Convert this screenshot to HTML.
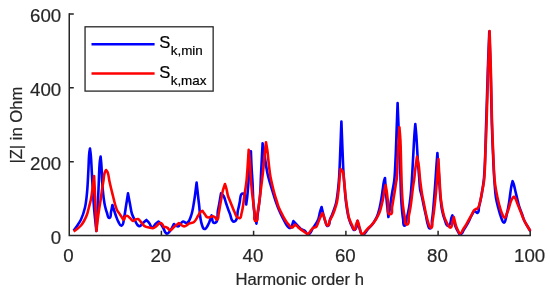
<!DOCTYPE html>
<html><head><meta charset="utf-8"><title>Impedance over harmonic order</title>
<style>
html,body{margin:0;padding:0;background:#fff;}
body{width:550px;height:292px;overflow:hidden;}
svg{display:block;}
text{font-family:"Liberation Sans",Arial,Helvetica,sans-serif;fill:#262626;stroke:#262626;stroke-width:0.2px;}
.tick{font-size:18.7px;}
.lab{font-size:16.65px;}
.leg{font-size:16.6px;fill:#000;stroke:#000;}
.sub{font-size:13.4px;fill:#000;stroke:#000;}
</style></head><body>
<svg width="550" height="292" viewBox="0 0 550 292">
<rect width="550" height="292" fill="#fff"/>
<g fill="none" stroke-linejoin="round" stroke-linecap="butt" stroke-width="2.6">
<path stroke="#0000ff" d="M73.60 230.50C74.73 229.00 75.94 227.55 77.00 226.00C78.44 223.90 79.92 221.81 81.00 219.50C82.78 215.68 84.04 211.61 85.00 207.50C86.11 202.75 86.52 197.86 87.00 193.00C87.76 185.36 87.95 177.67 88.40 170.00C88.75 164.00 88.71 157.97 89.40 152.00C89.53 150.86 89.80 149.73 90.00 148.60C90.27 150.73 90.60 152.86 90.80 155.00C91.32 160.65 91.48 166.33 91.80 172.00C92.14 178.00 92.42 184.00 92.80 190.00C93.27 197.34 93.75 204.68 94.40 212.00C94.96 218.34 95.73 224.67 96.40 231.00C96.80 224.00 97.25 217.00 97.60 210.00C98.07 200.67 98.37 191.33 98.80 182.00C99.11 175.33 99.14 168.64 99.80 162.00C99.98 160.19 100.33 158.40 100.60 156.60C100.87 159.40 101.20 162.19 101.40 165.00C101.80 170.66 101.83 176.34 102.20 182.00C102.46 186.01 102.74 190.01 103.20 194.00C103.67 198.02 104.14 202.05 105.00 206.00C105.51 208.37 106.14 210.73 107.00 213.00C107.66 214.73 107.56 218.17 109.40 218.00C111.46 217.81 110.53 214.02 111.00 212.00C111.54 209.68 111.93 207.33 112.40 205.00C112.93 206.67 113.46 208.34 114.00 210.00C114.65 212.00 115.26 214.03 116.00 216.00C116.76 218.03 117.39 220.14 118.50 222.00C119.29 223.32 119.88 225.87 121.40 225.60C124.04 225.14 123.34 220.60 124.00 218.00C124.99 214.07 125.35 210.00 126.00 206.00C126.68 201.80 127.33 197.60 128.00 193.40C128.67 196.93 129.31 200.47 130.00 204.00C130.65 207.34 130.95 210.77 132.00 214.00C132.74 216.27 133.92 218.37 135.00 220.50C135.78 222.03 136.31 223.77 137.50 225.00C138.04 225.56 138.73 226.27 139.50 226.20C140.84 226.07 141.49 224.39 142.50 223.50C143.83 222.32 145.17 221.17 146.50 220.00C147.50 221.17 148.55 222.29 149.50 223.50C150.49 224.76 150.70 227.29 152.30 227.40C153.85 227.50 154.36 225.06 155.50 224.00C156.47 223.10 157.57 222.33 158.60 221.50C159.57 222.67 160.64 223.75 161.50 225.00C162.26 226.10 162.79 227.36 163.50 228.50C164.60 230.25 164.95 233.34 167.00 233.60C168.31 233.77 169.16 232.02 170.00 231.00C171.71 228.92 172.67 226.33 174.00 224.00C175.33 224.80 176.45 226.57 178.00 226.40C180.30 226.14 180.74 222.09 183.00 221.60C184.38 221.30 185.68 223.49 187.00 223.00C189.52 222.06 190.04 218.51 191.00 216.00C192.70 211.54 193.18 206.70 194.00 202.00C195.12 195.57 195.73 189.07 196.60 182.60C197.40 189.73 198.09 196.88 199.00 204.00C199.89 211.01 199.63 218.34 202.00 225.00C202.52 226.47 202.85 228.85 204.40 229.00C206.19 229.17 207.07 226.53 208.00 225.00C209.77 222.08 210.40 218.60 211.60 215.40C212.53 217.93 211.70 223.11 214.40 223.00C218.89 222.81 217.00 214.38 218.00 210.00C219.25 204.52 220.00 198.93 221.00 193.40C221.87 194.27 222.95 194.96 223.60 196.00C224.91 198.09 225.18 200.67 226.00 203.00C227.30 206.68 228.42 210.43 230.00 214.00C231.16 216.62 231.15 221.82 234.00 221.60C238.08 221.29 236.89 213.94 238.00 210.00C238.76 207.31 239.19 204.53 239.80 201.80C240.39 199.20 239.73 195.90 241.60 194.00C242.08 193.51 242.93 193.67 243.60 193.50C244.07 194.33 244.69 195.10 245.00 196.00C245.91 198.71 245.80 201.67 246.20 204.50C246.53 202.00 246.93 199.51 247.20 197.00C247.71 192.34 248.06 187.67 248.40 183.00C248.89 176.34 249.03 169.65 249.60 163.00C249.93 159.12 250.47 155.27 250.90 151.40C251.10 156.27 251.25 161.14 251.50 166.00C251.78 171.34 252.19 176.67 252.50 182.00C253.04 191.33 252.94 200.71 254.00 210.00C254.52 214.57 255.60 219.07 256.40 223.60C256.93 219.73 257.49 215.87 258.00 212.00C258.70 206.67 259.54 201.35 260.00 196.00C260.60 189.02 260.66 182.00 261.00 175.00C261.52 164.47 262.07 153.93 262.60 143.40C263.23 147.27 263.87 151.13 264.50 155.00C265.54 161.33 266.25 167.73 267.60 174.00C268.25 177.04 269.14 180.02 270.00 183.00C270.87 186.02 271.86 189.00 272.80 192.00C273.79 195.17 274.71 198.36 275.80 201.50C276.79 204.36 277.82 207.21 279.00 210.00C280.22 212.88 281.58 215.71 283.00 218.50C283.95 220.36 284.87 222.25 286.00 224.00C286.75 225.16 287.41 226.46 288.50 227.30C288.99 227.67 289.63 228.22 290.20 228.00C292.59 227.06 292.33 223.33 293.40 221.00C294.27 222.00 295.10 223.03 296.00 224.00C297.61 225.73 299.09 227.62 301.00 229.00C302.21 229.87 303.82 230.09 305.00 231.00C306.20 231.92 306.49 234.45 308.00 234.40C310.71 234.32 311.45 230.22 313.00 228.00C314.80 225.42 316.77 222.89 318.00 220.00C319.07 217.47 319.25 214.64 320.00 212.00C320.48 210.32 321.07 208.67 321.60 207.00C322.23 209.67 322.81 212.35 323.50 215.00C324.11 217.35 324.55 219.76 325.50 222.00C326.10 223.42 326.27 226.15 327.80 226.00C330.08 225.78 329.17 221.63 330.00 219.50C330.66 217.80 331.52 216.19 332.20 214.50C333.00 212.52 333.73 210.52 334.40 208.50C335.06 206.52 335.73 204.54 336.20 202.50C336.76 200.03 337.06 197.51 337.40 195.00C337.81 192.01 338.11 189.00 338.40 186.00C338.72 182.67 339.00 179.34 339.20 176.00C339.73 167.34 339.95 158.67 340.30 150.00C340.68 140.53 341.03 131.07 341.40 121.60C341.77 131.07 342.11 140.53 342.50 150.00C342.84 158.33 343.06 166.68 343.60 175.00C343.75 177.34 344.00 179.67 344.20 182.00C344.79 188.67 345.12 195.36 346.00 202.00C346.76 207.70 347.42 213.47 349.00 219.00C349.79 221.76 350.83 224.47 352.20 227.00C352.78 228.07 353.09 230.16 354.30 230.00C357.46 229.57 356.43 224.00 357.50 221.00C358.20 223.50 358.67 226.07 359.60 228.50C360.41 230.62 360.36 234.24 362.60 234.60C364.90 234.97 365.87 231.27 367.50 229.60C368.67 228.40 369.91 227.27 371.00 226.00C372.08 224.73 373.10 223.40 374.00 222.00C375.13 220.24 376.19 218.43 377.00 216.50C378.15 213.77 378.89 210.88 379.60 208.00C380.41 204.71 380.94 201.35 381.50 198.00C382.00 195.01 382.36 192.00 382.80 189.00C383.19 186.33 383.37 183.62 384.00 181.00C384.25 179.97 384.67 179.00 385.00 178.00C385.27 182.00 385.51 186.00 385.80 190.00C386.04 193.34 386.29 196.67 386.60 200.00C387.13 205.67 387.80 211.33 388.40 217.00C388.80 214.67 389.24 212.34 389.60 210.00C390.12 206.67 390.50 203.33 391.00 200.00C391.50 196.66 392.04 193.33 392.60 190.00C393.11 187.00 393.84 184.03 394.20 181.00C395.03 174.04 395.15 167.00 395.50 160.00C396.03 149.34 396.31 138.67 396.70 128.00C397.01 119.67 397.30 111.33 397.60 103.00C397.93 111.33 398.24 119.67 398.60 128.00C398.91 135.33 399.32 142.66 399.60 150.00C399.92 158.33 400.14 166.67 400.40 175.00C400.61 181.67 400.68 188.34 401.00 195.00C401.24 200.01 401.53 205.01 402.00 210.00C402.31 213.34 402.59 216.70 403.20 220.00C403.55 221.89 402.68 225.55 404.60 225.60C406.90 225.66 406.02 221.22 406.60 219.00C407.54 215.37 408.35 211.70 409.00 208.00C409.70 204.03 410.17 200.01 410.60 196.00C411.13 191.01 411.46 186.00 411.80 181.00C412.28 174.01 412.60 167.00 413.00 160.00C413.47 151.67 413.83 143.33 414.40 135.00C414.65 131.33 415.00 127.67 415.30 124.00C415.63 127.67 416.02 131.33 416.30 135.00C416.93 143.32 417.23 151.67 417.80 160.00C418.21 166.00 418.72 172.00 419.20 178.00C419.52 182.00 419.53 186.04 420.20 190.00C420.49 191.70 421.11 193.32 421.50 195.00C422.43 198.98 423.14 203.01 424.00 207.00C424.65 210.00 425.33 213.00 426.00 216.00C426.67 219.00 426.87 222.14 428.00 225.00C428.48 226.22 428.70 228.60 430.00 228.40C432.85 227.97 431.52 222.84 432.00 220.00C433.11 213.39 433.42 206.67 434.00 200.00C434.58 193.34 435.03 186.67 435.50 180.00C435.85 175.00 436.15 170.00 436.50 165.00C436.78 161.00 437.10 157.00 437.40 153.00C437.70 157.00 438.03 161.00 438.30 165.00C438.64 170.00 438.87 175.00 439.20 180.00C439.60 186.00 439.91 192.01 440.50 198.00C440.90 202.01 441.19 206.05 442.00 210.00C442.73 213.57 443.62 217.13 445.00 220.50C445.79 222.43 445.93 225.70 448.00 226.00C448.93 226.13 449.54 224.82 450.00 224.00C451.00 222.20 450.80 219.96 451.40 218.00C451.67 217.11 452.07 216.27 452.40 215.40C452.80 216.93 453.18 218.47 453.60 220.00C454.20 222.18 454.68 224.40 455.50 226.50C456.18 228.23 457.05 229.90 458.00 231.50C458.60 232.51 458.83 234.35 460.00 234.40C462.11 234.49 462.78 231.22 464.00 229.50C465.47 227.43 466.80 225.24 468.00 223.00C469.13 220.90 469.93 218.63 471.00 216.50C471.94 214.63 473.00 212.83 474.00 211.00C474.67 211.33 475.36 211.62 476.00 212.00C476.49 212.30 476.86 213.19 477.40 213.00C479.35 212.30 478.51 209.01 479.00 207.00C479.73 204.01 480.41 201.02 481.00 198.00C481.77 194.02 482.42 190.01 483.00 186.00C483.39 183.34 483.78 180.68 484.00 178.00C485.53 159.38 485.54 140.67 486.20 122.00C486.84 104.00 487.27 86.00 487.90 68.00C488.32 55.83 488.83 43.67 489.30 31.50C489.73 43.67 490.25 55.83 490.60 68.00C491.12 86.00 491.24 104.00 491.80 122.00C492.24 136.34 492.80 150.67 493.50 165.00C493.78 170.67 494.07 176.34 494.50 182.00C494.91 187.34 495.17 192.71 496.00 198.00C496.48 201.04 497.24 204.02 498.00 207.00C498.60 209.35 499.27 211.69 500.00 214.00C500.61 215.95 501.06 217.98 502.00 219.80C502.53 220.82 502.86 222.72 504.00 222.60C505.48 222.45 505.33 219.92 505.80 218.50C506.45 216.55 506.78 214.51 507.20 212.50C507.87 209.35 508.49 206.18 509.00 203.00C509.56 199.51 509.89 195.99 510.40 192.50C510.77 189.99 511.08 187.48 511.60 185.00C511.87 183.72 512.27 182.47 512.60 181.20C513.00 182.30 513.46 183.38 513.80 184.50C514.54 186.96 515.00 189.50 515.60 192.00C516.16 194.33 516.73 196.67 517.30 199.00C517.87 201.33 518.29 203.71 519.00 206.00C519.84 208.72 521.05 211.32 522.00 214.00C522.70 215.99 523.16 218.07 524.00 220.00C524.83 221.91 525.96 223.69 527.00 225.50C528.06 227.36 529.20 229.17 530.30 231.00"/>
<path stroke="#ff0000" d="M73.60 231.50C74.73 230.67 75.90 229.88 77.00 229.00C78.38 227.89 79.83 226.83 81.00 225.50C82.19 224.14 83.12 222.57 84.00 221.00C85.17 218.92 86.19 216.74 87.00 214.50C87.88 212.07 88.35 209.51 89.00 207.00C89.69 204.34 90.46 201.70 91.00 199.00C91.53 196.36 91.83 193.67 92.20 191.00C92.57 188.34 92.86 185.67 93.20 183.00C93.50 180.67 93.80 178.33 94.10 176.00C94.27 179.33 94.45 182.67 94.60 186.00C94.78 190.00 94.94 194.00 95.10 198.00C95.31 203.33 95.49 208.67 95.70 214.00C95.92 219.67 96.17 225.33 96.40 231.00C96.73 228.00 97.03 225.00 97.40 222.00C97.89 217.99 98.41 213.99 99.00 210.00C99.49 206.66 100.10 203.34 100.60 200.00C101.10 196.67 101.51 193.33 102.00 190.00C102.44 187.00 102.94 184.00 103.40 181.00C103.81 178.33 103.82 175.58 104.60 173.00C104.92 171.94 105.53 171.00 106.00 170.00C106.50 170.67 107.16 171.24 107.50 172.00C108.77 174.79 108.74 178.01 109.40 181.00C109.91 183.34 110.44 185.67 111.00 188.00C111.64 190.67 112.33 193.33 113.00 196.00C113.67 198.67 114.23 201.36 115.00 204.00C115.59 206.02 116.07 208.11 117.00 210.00C117.79 211.62 119.00 213.00 120.00 214.50C120.67 215.50 121.30 216.53 122.00 217.50C122.57 218.29 122.83 219.93 123.80 219.80C124.98 219.64 124.36 217.35 125.20 216.50C125.61 216.09 126.22 215.74 126.80 215.80C128.09 215.92 129.00 217.17 130.00 218.00C131.09 218.90 131.60 220.83 133.00 221.00C133.96 221.12 134.59 219.85 135.50 219.50C136.29 219.19 137.19 218.75 138.00 219.00C139.35 219.41 140.02 220.98 141.00 222.00C142.37 223.43 143.31 225.36 145.00 226.40C146.18 227.12 147.65 227.20 149.00 227.50C150.32 227.80 151.67 228.46 153.00 228.20C154.35 227.93 155.42 226.86 156.50 226.00C157.42 225.27 157.98 224.09 159.00 223.50C159.54 223.19 160.19 222.86 160.80 223.00C161.54 223.17 162.02 223.92 162.50 224.50C163.12 225.25 163.15 226.52 164.00 227.00C164.46 227.26 165.08 226.89 165.60 227.00C166.27 227.14 166.93 227.42 167.50 227.80C168.48 228.46 168.83 230.18 170.00 230.30C170.79 230.38 171.38 229.50 172.00 229.00C172.73 228.41 173.30 227.63 174.00 227.00C175.59 225.58 177.33 224.33 179.00 223.00C180.67 224.13 181.99 226.31 184.00 226.40C185.91 226.48 187.25 224.36 189.00 223.60C190.60 222.90 192.60 223.05 194.00 222.00C195.92 220.55 196.70 218.02 198.00 216.00C198.85 214.68 199.39 213.11 200.50 212.00C201.03 211.47 201.77 211.20 202.40 210.80C203.27 212.03 204.07 213.31 205.00 214.50C205.78 215.51 206.30 216.96 207.50 217.40C208.29 217.69 209.17 217.16 210.00 217.00C211.01 216.80 211.98 216.18 213.00 216.30C213.74 216.39 214.41 216.84 215.00 217.30C215.80 217.92 216.01 219.82 217.00 219.60C218.90 219.18 218.17 215.89 218.60 214.00C219.21 211.36 219.53 208.67 220.00 206.00C220.53 203.00 221.03 199.99 221.60 197.00C222.04 194.66 222.39 192.30 223.00 190.00C223.54 187.96 224.33 186.00 225.00 184.00C225.50 185.67 226.07 187.31 226.50 189.00C227.09 191.31 227.30 193.72 228.00 196.00C228.52 197.72 229.33 199.33 230.00 201.00C230.67 202.67 231.32 204.34 232.00 206.00C232.82 208.01 233.60 210.03 234.50 212.00C235.28 213.69 235.59 215.78 237.00 217.00C237.80 217.69 239.06 218.47 240.00 218.00C241.41 217.29 241.08 215.02 241.50 213.50C241.95 211.85 242.30 210.18 242.60 208.50C243.41 204.03 243.85 199.50 244.50 195.00C244.98 191.66 245.55 188.34 246.00 185.00C246.22 183.34 246.44 181.67 246.60 180.00C247.03 175.67 247.29 171.34 247.60 167.00C248.00 161.30 248.33 155.60 248.70 149.90C249.07 153.27 249.52 156.62 249.80 160.00C250.29 165.99 250.38 172.01 250.80 178.00C251.13 182.67 251.51 187.34 252.00 192.00C252.28 194.67 252.67 197.33 253.00 200.00C253.50 204.00 253.92 208.01 254.50 212.00C254.94 215.01 252.96 220.95 256.00 221.00C258.38 221.04 256.98 216.34 257.40 214.00C258.00 210.68 258.52 207.34 259.00 204.00C259.38 201.34 259.66 198.67 260.00 196.00C260.59 191.33 261.23 186.67 261.80 182.00C262.37 177.34 262.92 172.67 263.40 168.00C263.88 163.34 264.23 158.66 264.70 154.00C265.10 150.06 265.57 146.13 266.00 142.20C266.43 144.80 266.94 147.39 267.30 150.00C267.98 154.98 268.30 160.01 268.90 165.00C269.38 169.01 269.80 173.03 270.50 177.00C270.80 178.68 271.22 180.34 271.60 182.00C272.37 185.34 273.11 188.69 274.00 192.00C274.91 195.36 275.95 198.68 277.00 202.00C277.64 204.01 278.19 206.05 279.00 208.00C279.71 209.72 280.67 211.33 281.50 213.00C282.33 214.67 283.09 216.37 284.00 218.00C284.77 219.37 285.58 220.73 286.50 222.00C287.26 223.05 288.09 224.07 289.00 225.00C289.93 225.94 290.68 227.65 292.00 227.60C293.41 227.55 294.00 225.60 295.00 224.60C295.67 225.07 296.38 225.48 297.00 226.00C297.72 226.61 298.28 227.39 299.00 228.00C300.56 229.33 302.28 230.47 304.00 231.60C305.30 232.46 306.47 234.26 308.00 234.00C309.28 233.78 309.67 232.00 310.50 231.00C311.33 230.00 311.92 228.73 313.00 228.00C313.87 227.41 315.20 227.69 316.00 227.00C317.13 226.02 317.39 224.36 318.00 223.00C318.74 221.36 319.28 219.64 320.00 218.00C320.74 216.31 321.60 214.67 322.40 213.00C322.83 214.00 323.31 214.98 323.70 216.00C324.20 217.31 324.47 218.70 325.00 220.00C325.79 221.93 325.71 225.69 327.80 225.60C329.34 225.53 328.86 222.70 329.50 221.30C330.01 220.17 330.65 219.11 331.20 218.00C331.85 216.68 332.53 215.36 333.10 214.00C333.85 212.20 334.49 210.35 335.10 208.50C335.76 206.52 336.45 204.54 336.90 202.50C337.45 200.03 337.68 197.51 338.00 195.00C338.39 192.01 338.72 189.01 339.00 186.00C339.28 183.00 339.42 180.00 339.70 177.00C339.95 174.33 340.30 171.67 340.60 169.00C341.40 170.00 342.50 170.82 343.00 172.00C344.05 174.48 343.70 177.33 344.00 180.00C344.75 186.66 345.17 193.35 346.00 200.00C346.42 203.34 346.94 206.68 347.50 210.00C347.95 212.68 348.21 215.40 349.00 218.00C349.84 220.77 351.13 223.40 352.40 226.00C353.00 227.23 353.03 229.72 354.40 229.60C356.02 229.46 355.46 226.53 356.00 225.00C356.52 223.53 357.07 222.07 357.60 220.60C357.97 221.73 358.38 222.85 358.70 224.00C359.12 225.49 359.28 227.04 359.80 228.50C360.53 230.55 360.45 234.07 362.60 234.40C363.77 234.58 364.20 232.67 365.00 231.80C366.00 230.70 366.97 229.57 368.00 228.50C368.97 227.50 370.03 226.60 371.00 225.60C371.69 224.89 372.37 224.17 373.00 223.40C373.89 222.31 374.73 221.18 375.50 220.00C376.42 218.58 377.25 217.11 378.00 215.60C378.75 214.10 379.45 212.58 380.00 211.00C380.85 208.56 381.39 206.01 382.00 203.50C382.44 201.68 382.85 199.84 383.20 198.00C383.70 195.35 383.99 192.65 384.50 190.00C384.82 188.32 385.23 186.67 385.60 185.00C386.00 187.33 386.46 189.66 386.80 192.00C387.28 195.32 387.48 198.68 388.00 202.00C388.65 206.13 386.22 214.22 390.40 214.30C392.90 214.35 391.61 209.45 392.10 207.00C392.57 204.68 392.91 202.33 393.30 200.00C393.81 197.00 394.32 194.00 394.80 191.00C395.22 188.34 395.57 185.66 396.00 183.00C396.22 181.66 396.55 180.35 396.70 179.00C397.40 172.70 397.29 166.33 397.60 160.00C397.92 153.33 398.23 146.66 398.60 140.00C398.84 135.73 399.13 131.47 399.40 127.20C399.73 131.47 400.17 135.73 400.40 140.00C400.76 146.66 400.81 153.33 401.00 160.00C401.21 167.33 401.35 174.67 401.60 182.00C401.71 185.33 401.81 188.67 402.00 192.00C402.26 196.67 402.48 201.35 403.00 206.00C403.42 209.69 403.92 213.37 404.70 217.00C405.25 219.57 404.17 224.65 406.80 224.60C409.74 224.54 408.19 218.88 408.80 216.00C409.43 213.01 410.01 210.01 410.50 207.00C410.98 204.01 411.32 201.00 411.70 198.00C412.16 194.34 412.50 190.66 413.00 187.00C413.32 184.66 413.79 182.34 414.10 180.00C414.54 176.68 414.79 173.33 415.20 170.00C415.74 165.59 416.40 161.20 417.00 156.80C417.60 159.87 418.35 162.91 418.80 166.00C419.47 170.64 419.57 175.34 420.10 180.00C420.63 184.68 421.22 189.36 422.00 194.00C422.56 197.35 423.33 200.67 424.00 204.00C424.67 207.33 425.25 210.68 426.00 214.00C426.45 216.01 426.95 218.01 427.50 220.00C427.96 221.68 428.26 223.43 429.00 225.00C429.51 226.09 429.82 228.21 431.00 228.00C433.02 227.63 432.01 224.02 432.40 222.00C432.91 219.35 433.24 216.67 433.60 214.00C434.13 210.01 434.57 206.00 435.00 202.00C435.36 198.67 435.69 195.34 436.00 192.00C436.37 188.00 436.70 184.00 437.00 180.00C437.52 173.00 437.93 166.00 438.40 159.00C438.60 162.67 438.80 166.33 439.00 170.00C439.26 174.67 439.49 179.34 439.80 184.00C440.15 189.34 440.31 194.70 441.00 200.00C441.70 205.38 442.49 210.79 444.00 216.00C444.50 217.72 445.26 219.36 446.00 221.00C446.61 222.36 447.15 223.77 448.00 225.00C448.67 225.97 449.24 227.84 450.40 227.60C452.34 227.20 451.80 223.89 452.40 222.00C452.92 220.35 453.33 218.67 453.80 217.00C454.13 218.33 454.47 219.67 454.80 221.00C455.21 222.66 455.45 224.38 456.00 226.00C456.53 227.55 457.22 229.06 458.00 230.50C458.58 231.58 458.77 233.56 460.00 233.60C461.69 233.65 462.03 230.89 463.00 229.50C464.03 228.02 465.06 226.54 466.00 225.00C466.89 223.53 467.67 222.00 468.50 220.50C469.33 219.00 470.16 217.50 471.00 216.00C472.12 214.00 472.81 211.66 474.40 210.00C474.84 209.55 475.43 209.26 476.00 209.00C476.51 208.77 477.19 208.88 477.60 208.50C479.27 206.91 479.37 204.22 480.00 202.00C480.92 198.73 481.36 195.34 482.00 192.00C482.70 188.34 483.58 184.70 484.00 181.00C485.18 170.72 485.05 160.34 485.50 150.00C485.91 140.67 486.28 131.33 486.60 122.00C487.22 104.00 487.59 86.00 488.20 68.00C488.62 55.66 489.13 43.33 489.60 31.00C490.00 43.33 490.46 55.66 490.80 68.00C491.29 86.00 491.44 104.00 492.00 122.00C492.39 134.67 492.90 147.34 493.50 160.00C493.82 166.67 493.95 173.35 494.60 180.00C494.93 183.35 495.41 186.69 496.00 190.00C496.83 194.70 497.78 199.39 499.00 204.00C499.85 207.21 500.55 210.51 502.00 213.50C502.72 214.99 503.15 217.71 504.80 217.60C506.14 217.51 506.05 215.22 506.60 214.00C507.26 212.53 507.86 211.02 508.40 209.50C509.38 206.71 509.86 203.74 511.00 201.00C511.43 199.95 511.93 198.91 512.60 198.00C512.99 197.47 513.53 197.07 514.00 196.60C514.50 197.23 515.10 197.80 515.50 198.50C516.20 199.74 516.49 201.17 517.00 202.50C517.97 205.01 519.00 207.50 520.00 210.00C521.33 213.33 522.47 216.75 524.00 220.00C524.89 221.89 525.96 223.69 527.00 225.50C528.06 227.36 529.20 229.17 530.30 231.00"/>
</g>
<g stroke="#262626" stroke-width="1.5" fill="none">
<path d="M69.25 13.25V235.5H530.95"/>
<path d="M69 14H73.8M69 87.85H73.8M69 161.7H73.8"/>
<path d="M161.4 235.5V230.8M253.6 235.5V230.8M345.9 235.5V230.8M438.1 235.5V230.8M530.2 235.5V230.8"/>
</g>
<g class="tick" text-anchor="middle">
<text transform="translate(68.4 262) scale(1 1)">0</text>
<text transform="translate(160.8 262) scale(1 1)">20</text>
<text transform="translate(253.0 262) scale(1 1)">40</text>
<text transform="translate(345.3 262) scale(1 1)">60</text>
<text transform="translate(437.5 262) scale(1 1)">80</text>
<text transform="translate(529.6 262) scale(1 1)">100</text>
</g>
<g class="tick" text-anchor="end">
<text transform="translate(61.2 243.7) scale(1 1)">0</text>
<text transform="translate(61.2 169.6) scale(1 1)">200</text>
<text transform="translate(61.2 95.8) scale(1 1)">400</text>
<text transform="translate(61.2 22.0) scale(1 1)">600</text>
</g>
<text class="lab" text-anchor="middle" x="299.7" y="284.5">Harmonic order h</text>
<text class="lab" text-anchor="middle" transform="translate(22.3 125.1) rotate(-90) scale(1 1.04)">|Z| in Ohm</text>
<rect x="85.05" y="26.8" width="128.1" height="64.3" fill="#fff" stroke="#262626" stroke-width="1.3"/>
<path d="M91.5 44.2H154.6" stroke="#0000ff" stroke-width="2.4" fill="none"/>
<path d="M91.5 73.5H154.6" stroke="#ff0000" stroke-width="2.4" fill="none"/>
<text class="leg" x="159.3" y="48">S</text><text class="sub" x="170.8" y="54.9">k,min</text>
<text class="leg" x="159.3" y="77.7">S</text><text class="sub" x="170.7" y="84.6">k,max</text>
</svg>
</body></html>
